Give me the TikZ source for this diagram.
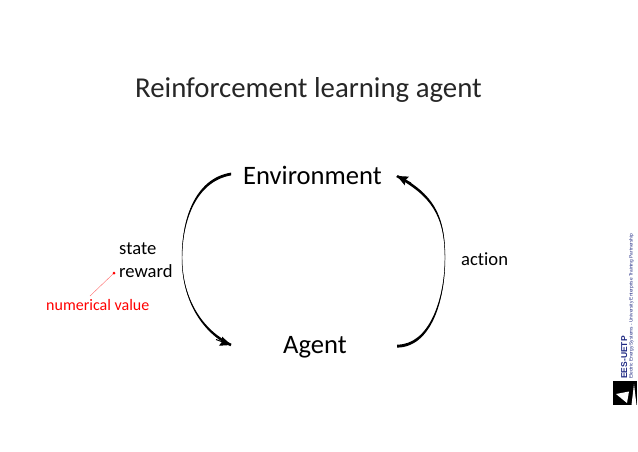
\documentclass[tikz,border=0pt]{standalone}
\usepackage{fontspec}
\setmainfont[Ligatures=NoCommon]{Carlito}
\newfontfamily\logofont{Liberation Sans}
\usetikzlibrary{arrows.meta}
\definecolor{logoblue}{RGB}{30,40,130}
\tikzset{
  lbl/.style={inner sep=0pt,anchor=base west},
  arcline/.style={draw=black,line width=.45pt},
  arcend/.style={fill=black},
  tip/.style={-{Stealth[length=11pt,width=9.5pt,inset=1.5pt]},line width=1pt}
}
\begin{document}
\begin{tikzpicture}[x=1pt,y=-1pt]
\useasboundingbox (0,0) rectangle (638,451);
\node at (135,97) [lbl,font=\fontsize{28.8}{29}\selectfont,text=black!85] (title) {Reinforcement learning agent};
\node at (243,184) [lbl,font=\fontsize{26.6}{27}\selectfont] (env) {Environment};
\node at (283,353) [lbl,font=\fontsize{26.6}{27}\selectfont] (agent) {Agent};
\node at (119,254) [lbl,font=\fontsize{18.6}{19}\selectfont] (state) {state};
\node at (119,277) [lbl,font=\fontsize{18.6}{19}\selectfont] (reward) {reward};
\node at (461,265) [lbl,font=\fontsize{18.6}{19}\selectfont] (action) {action};
\node at (46,310) [lbl,font=\fontsize{16}{16}\selectfont,text=red] (value) {numerical value};

\coordinate (envleft) at (231,174);
\coordinate (agentleft) at (231,345);
\coordinate (envright) at (397,176);
\coordinate (agentright) at (397,346);
\coordinate (leftmid) at (182,258);
\coordinate (rightmid) at (445,258);
\coordinate (dot) at (114,273);
\coordinate (valuetop) at (90,296);

% arcs
\draw[arcline] (envleft) .. controls (195,180) and (182,220) .. (leftmid);
\draw[arcline] (leftmid) .. controls (182,300) and (203,332) .. (agentleft);
\draw[arcline] (agentright) .. controls (430,346) and (445,300) .. (rightmid);
\draw[arcline] (rightmid) .. controls (445,215) and (432,195) .. (envright);
% thick ends
\fill[arcend] (231,172.6) .. controls (194.5,178.5) and (181.6,220) .. (182,258)
  .. controls (182.4,221) and (196,181.5) .. (231,175.4) -- cycle;
\fill[arcend] (231.5,343.8) .. controls (203.8,331) and (182.4,300) .. (182,258)
  .. controls (181.6,300) and (202.2,333) .. (230.5,346.2) -- cycle;
\fill[arcend] (397,344.6) .. controls (429,345) and (444.6,299.5) .. (445,258)
  .. controls (445.4,300.5) and (431,347.4) .. (397,347.6) -- cycle;
\fill[arcend] (445,258) .. controls (445.4,214.5) and (433,194) .. (397.8,175)
  -- (396.2,177) .. controls (431,196) and (444.6,215.5) .. (445,258) -- cycle;
% arrow heads
\draw[tip] (216,339.5) -- (agentleft);
\draw[tip] (411,183) -- (envright);

\draw[red!60,line width=.4pt] (valuetop) -- (dot);
\fill[red] (dot) circle (1.5);

% logo
\node at (627,379) [rotate=90,anchor=base west,inner sep=0pt,text=logoblue,font=\logofont\bfseries\fontsize{8.5}{8.5}\selectfont] (ees) {EES-UETP};
\node at (629,379) [rotate=90,anchor=north west,inner sep=0pt,text=logoblue,font=\logofont\fontsize{4.8}{4.8}\selectfont] (ptnr) {Electric Energy Systems - University Enterprise Training Partnership};
\fill[black] (613,381) rectangle (637,405);
\fill[white] (616,394) -- (629,391.5) -- (627,403) -- cycle;
\fill[white] (634,384) -- (636.5,405) -- (631.5,405) -- cycle;
\end{tikzpicture}
\end{document}
